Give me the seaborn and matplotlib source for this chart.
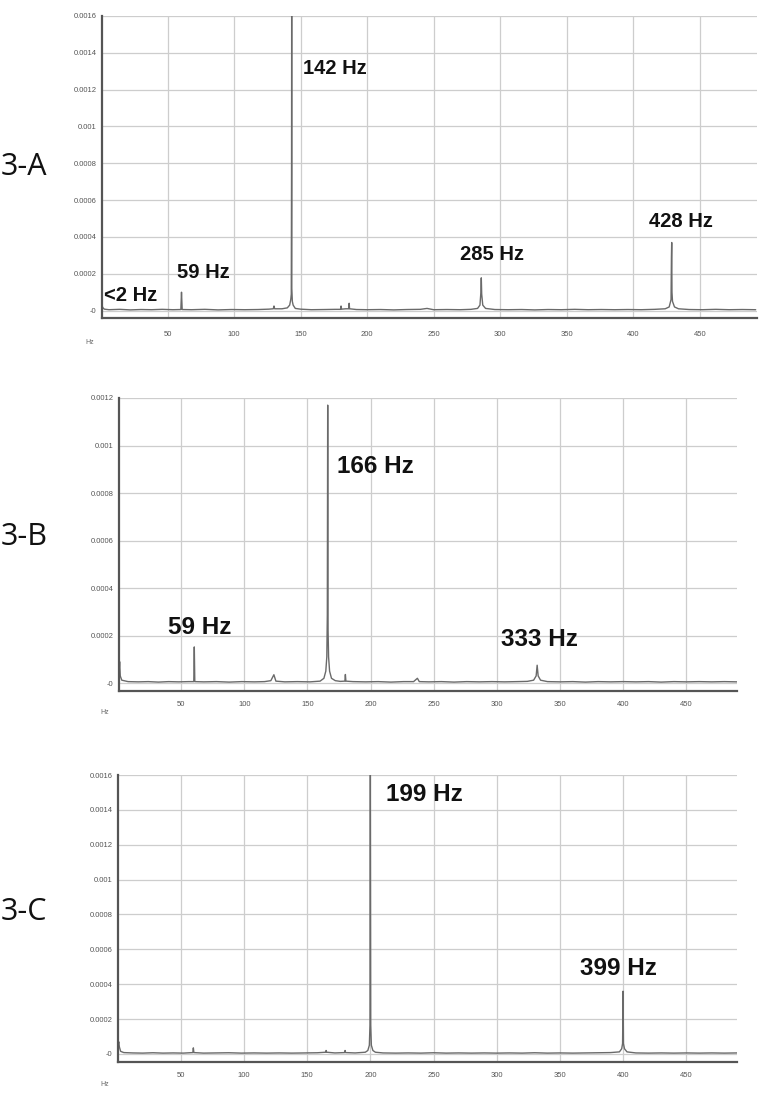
import matplotlib
matplotlib.use("Agg")
import matplotlib.pyplot as plt
import numpy as np
import seaborn as sns

# spectrum samples (Hz) and amplitudes in units of 1e-4
freq_a = [0.8, 1.5, 2.5, 6, 14, 22, 30, 38, 46, 54, 60.0, 60.5, 61.0, 68, 78, 88, 98,
          108, 118, 126, 129.5, 130, 130.5, 136, 140, 141.8, 142.6, 143.0, 143.2, 143.3,
          143.4, 143.8, 144.4, 146, 150, 158, 168, 176, 180.0, 180.4, 180.8, 184, 186.2,
          186.5, 186.8, 192, 200, 210, 220, 230, 240, 245, 250, 260, 270, 278, 283, 284.8,
          285.5, 285.8, 286.1, 286.9, 289, 296, 306, 316, 326, 336, 346, 356, 366, 376,
          386, 396, 406, 416, 424, 427, 428.4, 428.7, 428.9, 429.1, 429.5, 431, 434, 442,
          452, 462, 472, 482, 492]
amp_a = [0.25, 0.15, 0.08, 0.05, 0.07, 0.04, 0.06, 0.05, 0.07, 0.05, 0.06, 1.0, 0.06,
         0.05, 0.07, 0.04, 0.06, 0.05, 0.06, 0.08, 0.1, 0.25, 0.1, 0.1, 0.15, 0.3, 0.6,
         0.9, 7.5, 16.3, 1.2, 0.5, 0.3, 0.12, 0.08, 0.05, 0.06, 0.07, 0.07, 0.25, 0.08,
         0.1, 0.1, 0.4, 0.1, 0.06, 0.05, 0.06, 0.04, 0.06, 0.07, 0.12, 0.05, 0.06, 0.05,
         0.07, 0.12, 0.3, 1.0, 1.78, 0.9, 0.3, 0.12, 0.06, 0.05, 0.06, 0.04, 0.06, 0.05,
         0.07, 0.05, 0.06, 0.05, 0.06, 0.05, 0.07, 0.1, 0.2, 0.6, 2.9, 3.7, 1.0, 0.5,
         0.2, 0.1, 0.06, 0.05, 0.07, 0.05, 0.06, 0.05]

freq_b = [0.8, 1.3, 1.8, 3, 8, 16, 24, 32, 40, 48, 56, 60.0, 60.4, 60.8, 68, 78, 88, 98,
          108, 116, 121, 123.4, 125, 132, 142, 152, 160, 163, 164.5, 165.3, 165.7, 166.0,
          166.3, 166.7, 167.5, 169, 172, 176, 179.6, 180.0, 180.4, 186, 196, 206, 216,
          226, 234, 237, 238.5, 246, 256, 266, 276, 286, 296, 306, 316, 324, 329, 331,
          331.8, 332.6, 334.5, 340, 350, 360, 370, 380, 390, 400, 410, 420, 430, 440, 450,
          460, 470, 480, 490]
amp_b = [0.4, 0.9, 0.3, 0.12, 0.06, 0.05, 0.06, 0.04, 0.06, 0.05, 0.06, 0.06, 1.52,
         0.06, 0.05, 0.06, 0.04, 0.06, 0.05, 0.06, 0.1, 0.35, 0.08, 0.05, 0.06, 0.05,
         0.08, 0.2, 0.5, 1.1, 2.85, 11.7, 2.2, 1.1, 0.5, 0.2, 0.1, 0.07, 0.08, 0.36, 0.08,
         0.06, 0.05, 0.06, 0.04, 0.06, 0.06, 0.2, 0.06, 0.05, 0.06, 0.04, 0.06, 0.05,
         0.06, 0.05, 0.06, 0.07, 0.12, 0.3, 0.75, 0.3, 0.12, 0.06, 0.05, 0.06, 0.04,
         0.06, 0.05, 0.06, 0.05, 0.06, 0.04, 0.06, 0.05, 0.06, 0.05, 0.06, 0.05]

freq_c = [0.5, 1.0, 1.5, 2.5, 5, 12, 20, 28, 36, 44, 52, 59.6, 60.0, 60.4, 68, 78, 88,
          98, 108, 118, 128, 138, 148, 158, 164.6, 165.0, 165.4, 172, 179.6, 180.0, 180.4,
          188, 196, 198, 199.2, 199.7, 200.0, 200.3, 200.8, 202, 204, 210, 220, 230, 240,
          250, 260, 270, 280, 290, 300, 310, 320, 330, 340, 350, 360, 370, 380, 390, 397,
          398.8, 399.5, 399.9, 400.2, 401, 403, 410, 420, 430, 440, 450, 460, 470, 480, 490]
amp_c = [0.5, 0.7, 0.4, 0.15, 0.08, 0.06, 0.05, 0.07, 0.05, 0.06, 0.05, 0.08, 0.35,
         0.08, 0.05, 0.06, 0.07, 0.05, 0.06, 0.05, 0.06, 0.05, 0.06, 0.07, 0.1, 0.2, 0.1,
         0.06, 0.08, 0.2, 0.08, 0.06, 0.1, 0.2, 0.5, 1.66, 16.3, 1.66, 0.5, 0.2, 0.1,
         0.06, 0.05, 0.06, 0.05, 0.07, 0.05, 0.06, 0.05, 0.06, 0.05, 0.06, 0.05, 0.07,
         0.05, 0.06, 0.05, 0.06, 0.07, 0.08, 0.12, 0.3, 0.6, 3.6, 0.6, 0.3, 0.12, 0.06,
         0.05, 0.06, 0.05, 0.06, 0.05, 0.06, 0.05, 0.06]

peak_labels_a = ["<2 Hz", "59 Hz", "142 Hz", "285 Hz", "428 Hz"]
peak_labels_b = ["59 Hz", "166 Hz", "333 Hz"]
peak_labels_c = ["199 Hz", "399 Hz"]
panel_names = ["3-A", "3-B", "3-C"]

xtick_vals = [50, 100, 150, 200, 250, 300, 350, 400, 450]
ytick_a = [0, 0.0002, 0.0004, 0.0006, 0.0008, 0.001, 0.0012, 0.0014, 0.0016]
ytick_text_a = ["-0", "0.0002", "0.0004", "0.0006", "0.0008", "0.001", "0.0012", "0.0014", "0.0016"]
ytick_b = [0, 0.0002, 0.0004, 0.0006, 0.0008, 0.001, 0.0012]
ytick_text_b = ["-0", "0.0002", "0.0004", "0.0006", "0.0008", "0.001", "0.0012"]

sns.set_style("white")
plt.rcParams["font.family"] = ["Liberation Sans", "DejaVu Sans"]

W, H = 768, 1106


def draw_panel(ax, freq, amp, yticks, ytext, xlim, ylim, xpad):
    sns.lineplot(x=np.array(freq), y=np.array(amp) * 1e-4, ax=ax, color="#6a6a6a",
                 linewidth=1.0, estimator=None, sort=False)
    ax.set_xlim(*xlim)
    ax.set_ylim(*ylim)
    ax.set_xticks(xtick_vals)
    ax.set_xticklabels([str(v) for v in xtick_vals])
    ax.set_yticks(yticks)
    ax.set_yticklabels(ytext)
    ax.set_axisbelow(True)
    ax.grid(True, color="#cdcdcd", linewidth=0.9)
    for s in ["top", "right"]:
        ax.spines[s].set_visible(False)
    for s in ["left", "bottom"]:
        ax.spines[s].set_color("#555555")
        ax.spines[s].set_linewidth(1.6)
    ax.tick_params(axis="x", direction="in", length=5, width=1, color="#555555",
                   labelsize=5.5, labelcolor="#555555", pad=xpad)
    ax.tick_params(axis="y", direction="out", length=3, width=1, color="#555555",
                   labelsize=5.5, labelcolor="#555555", pad=1)
    ax.set_xlabel("")
    ax.set_ylabel("")


def box(left, right, top, bottom):
    return [left / W, 1 - bottom / H, (right - left) / W, (bottom - top) / H]


fig = plt.figure(figsize=(W / 100, H / 100), dpi=100)
ax_a = fig.add_axes(box(102, 757, 16, 318))
ax_b = fig.add_axes(box(119, 737, 398, 691))
ax_c = fig.add_axes(box(118, 737, 775, 1062))

draw_panel(ax_a, freq_a, amp_a, ytick_a, ytick_text_a, (0.75, 493), (-0.00004, 0.0016), 9)
draw_panel(ax_b, freq_b, amp_b, ytick_b, ytick_text_b, (0.8, 490), (-0.0000335, 0.0012), 7)
draw_panel(ax_c, freq_c, amp_c, ytick_a, ytick_text_a, (0.4, 490), (-0.000046, 0.0016), 7)

# peak annotations
pos_a = [(2.3, 0.00008), (57, 0.000205), (152, 0.001317), (270, 0.000303), (412, 0.000484)]
pos_b = [(39.8, 0.000233), (173, 0.000912), (303, 0.000184)]
pos_c = [(212.4, 0.00149), (366, 0.00049)]
for ax, labels, pos, size in [(ax_a, peak_labels_a, pos_a, 14.5),
                              (ax_b, peak_labels_b, pos_b, 17.5),
                              (ax_c, peak_labels_c, pos_c, 17.5)]:
    for t, (x, y) in zip(labels, pos):
        ax.text(x, y, t, fontsize=size, fontweight="bold", color="#111111",
                ha="left", va="center")

# "Hz" unit labels
for x, y in [(85, 343), (100, 713), (100, 1085)]:
    fig.text(x / W, 1 - y / H, "Hz", fontsize=5, color="#666666", ha="left", va="center")

# panel names
for name, y in zip(panel_names, [167, 537, 912]):
    fig.text(1 / W, 1 - y / H, name, fontsize=22, color="#111111", ha="left", va="center",
             family=["Open Sans", "DejaVu Sans"])

fig.savefig("out.png", dpi=100)
